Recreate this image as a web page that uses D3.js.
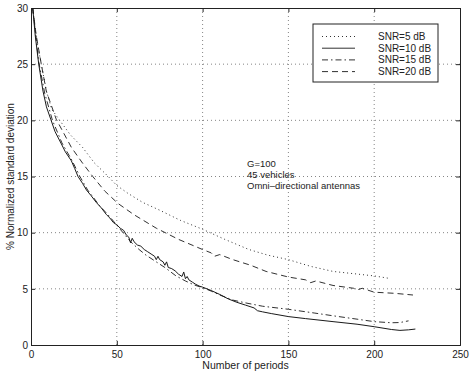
<!DOCTYPE html>
<html>
<head>
<meta charset="utf-8">
<script src="https://cdn.jsdelivr.net/npm/d3@7"></script>
<style>
  body { margin: 0; background: #fff; }
  svg { display: block; font-family: "Liberation Sans", Arial, Helvetica, sans-serif; }
</style>
</head>
<body>
<div id="chart"></div>
<script>
// values: [periods, % normalized std dev]
const snr5 = [[1,30],[3,27.4],[6,25],[9,22.6],[12,21],[16.7,20],[23,18.7],[30,17.6],[37,16.2],[45,15],[50,14.2],[56.5,13.5],[65,12.7],[75,12],[87,11.1],[100,10.3],[113,9.4],[127,8.5],[138,8],[150,7.6],[163,7],[176,6.55],[188,6.35],[200,6.15],[208,5.95]];
const snr10 = [[1,30],[2.5,27.5],[4.5,25],[7,22.6],[9,21.2],[11.5,20.1],[14,19],[17.7,17.9],[20,17.2],[23.5,16.4],[25.5,15.7],[27.4,15],[30,14.4],[32.3,13.8],[35,13.3],[38,12.7],[41,12.2],[44,11.6],[46,11.3],[48,10.9],[50,10.7],[52,10.4],[54,10.2],[55.5,9.8],[57,9.6],[58,9.1],[59,9.5],[60,9.2],[62,8.9],[64,8.8],[66,8.5],[68,8.3],[70,8.1],[72,7.9],[73,7.6],[74,7.9],[75,7.6],[77,7.4],[78,7.1],[79,7.4],[80,6.9],[82,6.8],[84,6.6],[86,6.3],[88,6.1],[89,6.5],[90,5.9],[91,6.1],[92,5.8],[94,5.6],[96,5.4],[98,5.25],[100,5.15],[105,4.85],[110,4.5],[115,4.1],[120,3.8],[125,3.55],[130,3.3],[132,3.05],[135,2.95],[140,2.8],[150,2.53],[160,2.35],[176,2.08],[190,1.85],[200,1.63],[210,1.38],[215,1.3],[220,1.35],[224,1.42]];
const snr15 = [[1,30],[4.5,25.2],[8,22.4],[12.5,20],[18,18],[24,16.4],[28.5,15],[33,13.8],[40,12.4],[46,11.4],[52,10.3],[58,9.2],[63,8.5],[67,8],[72,7.5],[78,6.9],[84.5,6.15],[90,5.7],[95,5.35],[100,5.1],[105,4.8],[110,4.45],[117.6,4.0],[125,3.75],[135,3.45],[150,3.18],[165,2.85],[176,2.6],[190,2.3],[200,2.08],[210,1.98],[215,2],[220,2.15]];
const snr20 = [[1,30],[3,27.6],[6,25],[8.9,22.6],[14.7,20.1],[23.5,17.6],[30,16.2],[36,15],[43,13.7],[50.7,12.6],[60,11.6],[73,10.4],[86,9.4],[100,8.5],[105,8.2],[107,7.9],[110,8.05],[117.6,7.6],[128,7.1],[137,6.55],[150,6.05],[160,5.8],[163,5.55],[166,5.7],[176,5.3],[188,5.05],[190,4.9],[193,5.05],[200,4.7],[212,4.6],[222.6,4.45]];

const seriesNames = ['SNR=5 dB', 'SNR=10 dB', 'SNR=15 dB', 'SNR=20 dB'];
const seriesData = [snr5, snr10, snr15, snr20];
const xTicks = [0, 50, 100, 150, 200, 250];
const yTicks = [0, 5, 10, 15, 20, 25, 30];
const notes = ['G=100', '45 vehicles', 'Omni\u2013directional antennas'];

const width = 474, height = 376;
const margin = {top: 8, right: 14, bottom: 31, left: 31};
const dashes = ['1,3', null, '6,3,1.5,3', '6,4'];

const svg = d3.select('#chart').append('svg')
    .attr('width', width)
    .attr('height', height);

const x = d3.scaleLinear().domain([0, 250]).range([margin.left, width - margin.right]);
const y = d3.scaleLinear().domain([0, 30]).range([height - margin.bottom, margin.top]);

// grid
svg.append('g').selectAll('line')
    .data(xTicks.slice(1, -1))
    .join('line')
    .attr('x1', d => x(d)).attr('x2', d => x(d))
    .attr('y1', y(0)).attr('y2', y(30))
    .attr('stroke', '#666').attr('stroke-width', 0.8)
    .attr('stroke-dasharray', '1,3');

svg.append('g').selectAll('line')
    .data(yTicks.slice(1, -1))
    .join('line')
    .attr('x1', x(0)).attr('x2', x(250))
    .attr('y1', d => y(d)).attr('y2', d => y(d))
    .attr('stroke', '#666').attr('stroke-width', 0.8)
    .attr('stroke-dasharray', '1,3');

// axes, ticks pointing inward like matlab
svg.append('g')
    .attr('transform', `translate(0,${y(0)})`)
    .call(d3.axisBottom(x).tickValues(xTicks).tickSize(-4).tickPadding(6));
svg.append('g')
    .attr('transform', `translate(${x(0)},0)`)
    .call(d3.axisLeft(y).tickValues(yTicks).tickSize(-4).tickPadding(3));
svg.append('g')
    .attr('transform', `translate(0,${y(30)})`)
    .call(d3.axisTop(x).tickValues(xTicks).tickSize(-4).tickFormat(''));
svg.append('g')
    .attr('transform', `translate(${x(250)},0)`)
    .call(d3.axisRight(y).tickValues(yTicks).tickSize(-4).tickFormat(''));

svg.selectAll('.domain').attr('stroke', '#222').attr('stroke-width', 1);
svg.selectAll('.tick line').attr('stroke', '#222');
svg.selectAll('.tick text').style('font-size', '10px').attr('fill', '#222');

// curves
const line = d3.line().x(d => x(d[0])).y(d => y(d[1]));
svg.append('g').selectAll('path')
    .data(seriesData)
    .join('path')
    .attr('d', line)
    .attr('fill', 'none')
    .attr('stroke', '#1a1a1a')
    .attr('stroke-width', (d, i) => i === 1 ? 1 : 0.9)
    .attr('stroke-dasharray', (d, i) => dashes[i]);

// legend
const legend = svg.append('g').attr('transform', 'translate(313,24)');
legend.append('rect')
    .attr('width', 125).attr('height', 58)
    .attr('fill', '#fff').attr('stroke', '#222').attr('stroke-width', 1);
legend.selectAll('line')
    .data(seriesNames)
    .join('line')
    .attr('x1', 9).attr('x2', 42)
    .attr('y1', (d, i) => 12.5 + i * 11.7).attr('y2', (d, i) => 12.5 + i * 11.7)
    .attr('stroke', '#1a1a1a').attr('stroke-width', 0.9)
    .attr('stroke-dasharray', (d, i) => dashes[i]);
legend.selectAll('text')
    .data(seriesNames)
    .join('text')
    .attr('x', 65)
    .attr('y', (d, i) => 16 + i * 11.7)
    .style('font-size', '10px')
    .attr('fill', '#222')
    .text(d => d);

// annotation
svg.append('g').selectAll('text')
    .data(notes)
    .join('text')
    .attr('x', 247)
    .attr('y', (d, i) => 167.3 + i * 11)
    .style('font-size', '9.5px')
    .attr('fill', '#222')
    .text(d => d);

// axis titles
svg.append('text')
    .attr('x', (x(0) + x(250)) / 2)
    .attr('y', 369)
    .attr('text-anchor', 'middle')
    .style('font-size', '10.5px')
    .attr('fill', '#222')
    .text('Number of periods');

svg.append('text')
    .attr('transform', `translate(14,${(y(0) + y(30)) / 2}) rotate(-90)`)
    .attr('text-anchor', 'middle')
    .style('font-size', '10px')
    .attr('fill', '#222')
    .text('% Normalized standard deviation');
</script>
</body>
</html>
